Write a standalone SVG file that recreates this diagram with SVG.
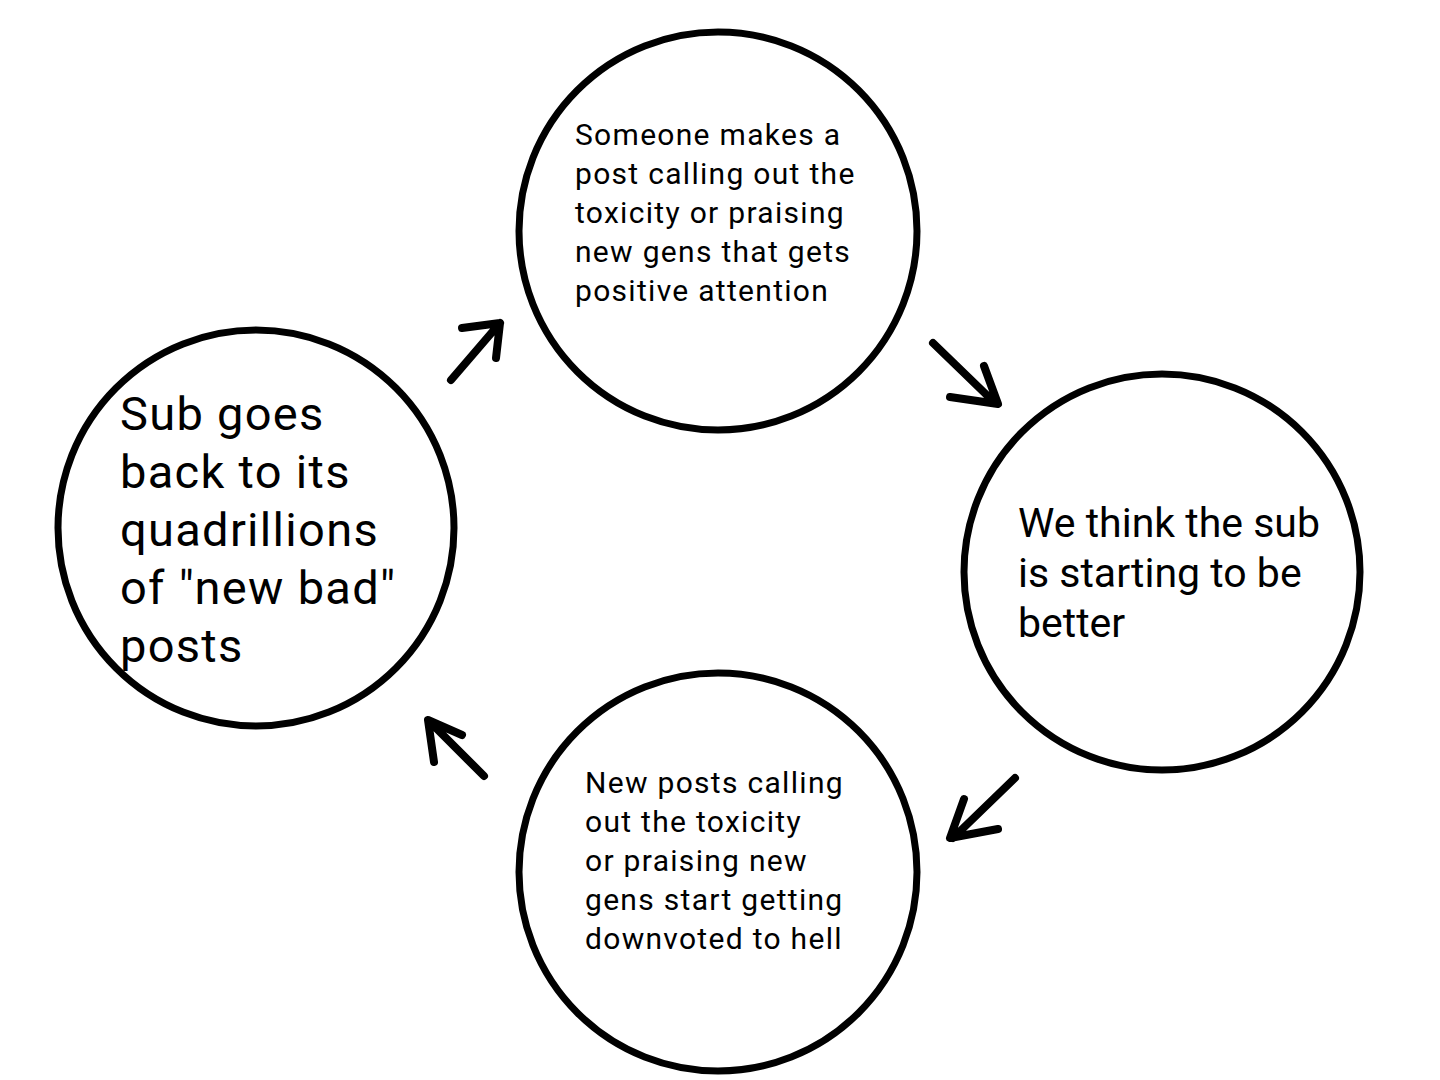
<svg xmlns="http://www.w3.org/2000/svg" width="1440" height="1080" viewBox="0 0 1440 1080">
<style>
.n{fill:#fff;stroke:#000;stroke-width:7}
.t{font-family:Roboto,"Liberation Sans",sans-serif;fill:#000}
.a{fill:none;stroke:#000;stroke-width:8;stroke-linecap:round;stroke-linejoin:round}
</style>
<rect width="1440" height="1080" fill="#fff"/>
<g id="top"><circle class="n" cx="718" cy="231" r="199"/>
<text class="t" font-size="30" letter-spacing="1.3"><tspan x="575" y="145">Someone makes a</tspan><tspan x="575" y="184">post calling out the</tspan><tspan x="575" y="223">toxicity or praising</tspan><tspan x="575" y="262">new gens that gets</tspan><tspan x="575" y="301">positive attention</tspan></text></g>
<g id="right"><circle class="n" cx="1162" cy="572" r="198"/>
<text class="t" font-size="41"><tspan x="1018" y="537">We think the sub</tspan><tspan x="1018" y="587">is starting to be</tspan><tspan x="1018" y="637">better</tspan></text></g>
<g id="bottom"><circle class="n" cx="718" cy="872" r="199"/>
<text class="t" font-size="30" letter-spacing="1.3"><tspan x="585" y="793">New posts calling</tspan><tspan x="585" y="832">out the toxicity</tspan><tspan x="585" y="871">or praising new</tspan><tspan x="585" y="910">gens start getting</tspan><tspan x="585" y="949">downvoted to hell</tspan></text></g>
<g id="left"><circle class="n" cx="256" cy="528" r="198"/>
<text class="t" font-size="47" letter-spacing="1.3"><tspan x="120" y="430">Sub goes</tspan><tspan x="120" y="488">back to its</tspan><tspan x="120" y="546">quadrillions</tspan><tspan x="120" y="604">of "new bad"</tspan><tspan x="120" y="662">posts</tspan></text></g>
<g id="connectors">
<path class="a" d="M451 380 L500 323 M462 328 L500 323 L496 358"/>
<path class="a" d="M933 343 L995 403 M984 366 L998 404 L950 397"/>
<path class="a" d="M1015 778 L953 838 M964 799 L950 838 L998 829"/>
<path class="a" d="M484 776 L430 722 M434 762 L428 720 L462 735"/>
</g>
</svg>
